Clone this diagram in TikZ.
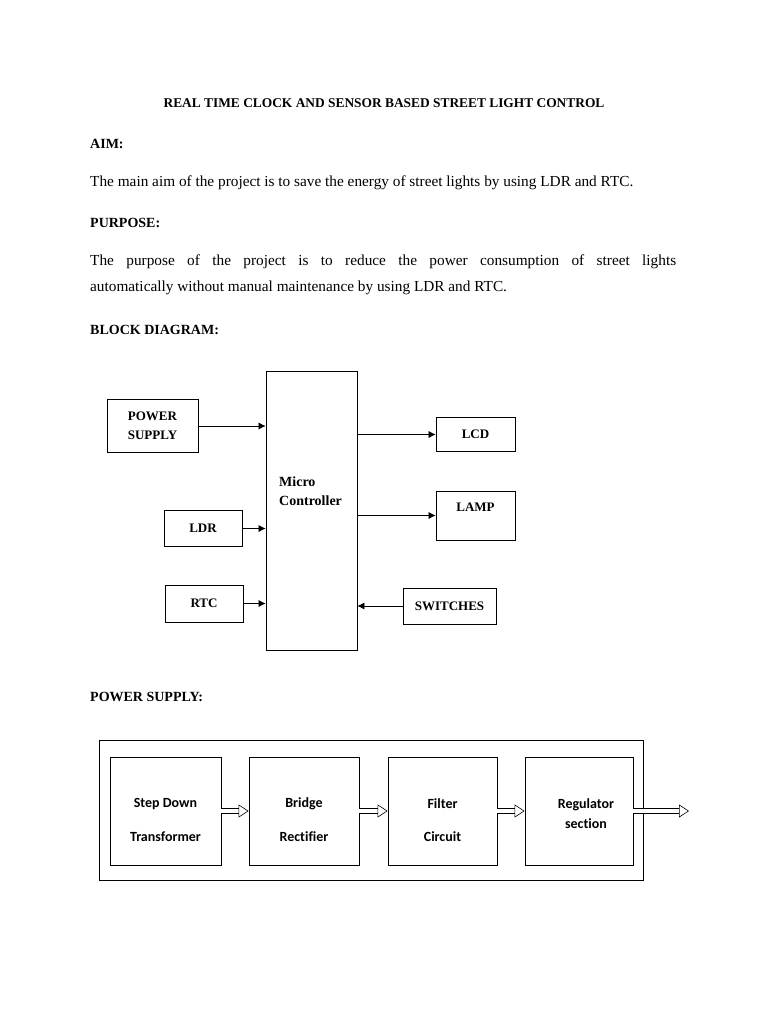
\documentclass[tikz,border=0pt]{standalone}
\usepackage{fontspec}
\setmainfont{Liberation Serif}
\newfontfamily\calib[Ligatures=NoCommon]{Carlito}
\usetikzlibrary{arrows.meta}

\tikzset{
  txt/.style={inner sep=0pt, font=\fontsize{15.3}{26}\selectfont},
  head/.style={inner sep=0pt, font=\bfseries\fontsize{14}{17}\selectfont},
  box/.style={draw, line width=0.8pt, inner sep=0pt},
  lbl/.style={inner sep=0pt, font=\bfseries\fontsize{13}{19}\selectfont},
  pslbl/.style={inner sep=0pt, font=\calib\bfseries\fontsize{14}{20}\selectfont},
  sig/.style={-{Latex[length=7pt,width=7pt]}, line width=0.6pt},
  hollow/.style={double, double distance=4.5pt, line width=0.6pt, -{Triangle[open,length=10pt,width=13pt]}}
}

\begin{document}
\begin{tikzpicture}[x=1pt,y=-1pt]
\useasboundingbox[fill=white] (0,0) rectangle (768,1024);

% text part
\node[head,font=\bfseries\fontsize{13.4}{17}\selectfont] (title) at (384,103) {REAL TIME CLOCK AND SENSOR BASED STREET LIGHT CONTROL};
\node[head,anchor=west] (aim) at (90,144) {AIM:};
\node[txt,anchor=west] (aimtxt) at (90,183) {The main aim of the project is to save the energy of street lights by using LDR and RTC.};
\node[head,anchor=west] (purp) at (90,223) {PURPOSE:};
\node[txt,anchor=north west,text width=586pt,align=justify] (purptxt) at (90,255)
  {The purpose of the project is to reduce the power consumption of street lights\linebreak automatically without manual maintenance by using LDR and RTC.};
\node[head,anchor=west] (bd) at (90,330) {BLOCK DIAGRAM:};

% block diagram
\node[box,minimum width=91pt,minimum height=279pt] (mcu) at (311.5,510.5) {};
\node[lbl,anchor=west,align=left,font=\bfseries\fontsize{14}{19}\selectfont] (mcutxt) at (279,491) {Micro\\Controller};
\node[box,minimum width=91pt,minimum height=53pt,lbl,align=left] (pwr) at (152.5,426) {POWER\\SUPPLY};
\node[box,minimum width=78pt,minimum height=36pt,lbl] (ldr) at (203,528.5) {LDR};
\node[box,minimum width=78pt,minimum height=37pt,lbl] (rtc) at (204,603.5) {RTC};
\node[box,minimum width=79pt,minimum height=34pt,lbl] (lcd) at (475.5,434.5) {LCD};
\node[box,minimum width=79pt,minimum height=49pt] (lamp) at (475.5,515.5) {};
\node[lbl] (lamptxt) at (475.5,507) {LAMP};
\node[box,minimum width=93pt,minimum height=36pt,lbl] (sw) at (449.5,606) {SWITCHES};

\draw[sig] (pwr.east) -- (pwr.east -| mcu.west);
\draw[sig] (ldr.east) -- (ldr.east -| mcu.west);
\draw[sig] (rtc.east) -- (rtc.east -| mcu.west);
\draw[sig] (lcd.west -| mcu.east) -- (lcd.west);
\draw[sig] (lamp.west -| mcu.east) -- (lamp.west);
\draw[sig] (sw.west) -- (sw.west -| mcu.east);

% power supply
\node[head,anchor=west] (ps) at (90,697) {POWER SUPPLY:};
\node[box,minimum width=544pt,minimum height=140pt] (frame) at (371,810) {};
\foreach \n/\x/\w in {sd/165.5/111, br/304/110, fc/442.5/109, rg/579/108}
  \node[box,minimum width=\w pt,minimum height=108pt] (\n) at (\x,811) {};
\node[pslbl] (sd1) at (165.5,804) {Step Down};
\node[pslbl] (sd2) at (165.5,837) {Transformer};
\node[pslbl] (br1) at (304,804) {Bridge};
\node[pslbl] (br2) at (304,837) {Rectifier};
\node[pslbl] (fc1) at (442.5,804) {Filter};
\node[pslbl] (fc2) at (442.5,837) {Circuit};
\node[pslbl,align=center] (rg1) at (586,814) {Regulator\\section};
\foreach \a/\b in {sd/br, br/fc, fc/rg}
  \draw[hollow] (\a.east) -- (\b.west);
\coordinate (out) at (689,811);
\draw[hollow] (rg.east) -- (out);
\end{tikzpicture}
\end{document}
